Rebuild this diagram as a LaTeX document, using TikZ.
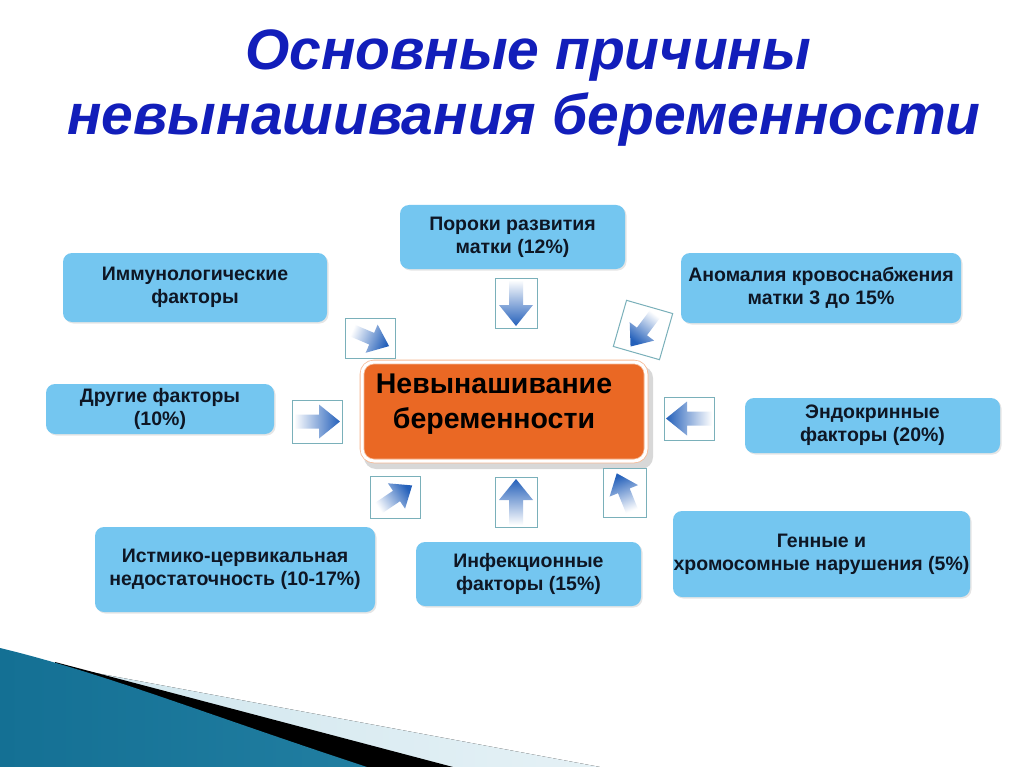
\documentclass[tikz,border=0pt]{standalone}
\usepackage{fontspec}
\setmainfont{Liberation Sans}
\usetikzlibrary{shadows}
\definecolor{headblue}{RGB}{18,30,186}
\definecolor{boxblue}{RGB}{116,198,240}
\definecolor{boxtext}{RGB}{14,22,36}
\definecolor{coreorange}{RGB}{234,104,36}
\definecolor{coreedge}{RGB}{246,186,150}
\definecolor{arrowblue}{RGB}{36,96,186}
\definecolor{framegray}{RGB}{122,176,186}
\definecolor{tealdark}{RGB}{20,112,148}
\definecolor{teallight}{RGB}{84,182,214}
\definecolor{paleblue}{RGB}{208,230,238}
\tikzset{
  cause/.style={fill=boxblue, rounded corners=9pt, align=center, text=boxtext, inner sep=0pt,
    font=\fontsize{19.5}{23}\selectfont\bfseries,
    drop shadow={shadow xshift=1.5pt, shadow yshift=-1.5pt, opacity=0.2}},
  frame/.style={draw=framegray, line width=1pt, fill=white, inner sep=0pt},
  pics/pointer/.style={code={
    \pgfmathsetmacro\shadeang{#1+90}
    \begin{scope}[rotate=#1]
    \shade[top color=white, bottom color=arrowblue, shading angle=\shadeang] (-23,-7) -- (2,-7) -- (2,-17) -- (23,0) -- (2,17) -- (2,7) -- (-23,7) -- cycle;
    \end{scope}
  }}
}

\begin{document}
\begin{tikzpicture}[x=1pt,y=-1pt]
\useasboundingbox (0,0) rectangle (1024,767);
\fill[white] (0,0) rectangle (1024,767);
\fill[left color=paleblue, right color=paleblue!55!white] (85,671) -- (600,767) -- (85,767) -- cycle;
\fill[black] (55,662) -- (453,767) -- (55,767) -- cycle;
\shade[left color=tealdark, middle color=teallight, right color=tealdark!80!teallight] (0,648) .. controls (100,672) and (200,712) .. (367,767) -- (0,767) -- cycle;

\node[anchor=base, text=headblue, font=\fontsize{57}{65}\selectfont\bfseries\itshape] (title1) at (528,70) {Основные причины};
\node[anchor=base, text=headblue, font=\fontsize{57}{65}\selectfont\bfseries\itshape] (title2) at (524,135) {невынашивания беременности};

\node[cause, minimum width=225, minimum height=64] (uterus) at (512.5,237) {Пороки развития\\матки (12\%)};
\node[cause, minimum width=264, minimum height=69] (immune) at (195,287.5) {Иммунологические\\факторы};
\node[cause, minimum width=280, minimum height=70] (blood) at (821,288) {Аномалия кровоснабжения\\матки 3 до 15\%};
\node[cause, minimum width=228, minimum height=50] (other) at (160,409) {Другие факторы\\(10\%)};
\node[cause, minimum width=255, minimum height=55] (endo) at (872.5,425.5) {Эндокринные\\факторы (20\%)};
\node[cause, minimum width=280, minimum height=85] (cervix) at (235,569.5) {Истмико-цервикальная\\недостаточность (10-17\%)};
\node[cause, minimum width=225, minimum height=64] (infect) at (528.5,574) {Инфекционные\\факторы (15\%)};
\node[cause, minimum width=297, minimum height=86] (genes) at (821.5,554) {Генные и\\хромосомные нарушения (5\%)};

\fill[black!30, opacity=0.5, rounded corners=12pt] (364,366) rectangle (653,469);
\node[fill=coreorange, draw=coreedge, double=white, double distance=3pt, line width=0.8pt, rounded corners=12pt, minimum width=284, minimum height=99] (core) at (504,411.5) {};
\node[font=\fontsize{28.5}{35}\selectfont\bfseries, align=center, text=black] (coretext) at (494,404) {Невынашивание\\беременности};

\node[frame, minimum width=42, minimum height=50] (f1) at (516,303) {};
\node[frame, minimum width=50, minimum height=40] (f2) at (370,338) {};
\node[frame, minimum width=48, minimum height=48, rotate=-16] (f3) at (643,330) {};
\node[frame, minimum width=50, minimum height=43] (f4) at (317,421.5) {};
\node[frame, minimum width=50, minimum height=43] (f5) at (689,418.5) {};
\node[frame, minimum width=50, minimum height=42] (f6) at (395,497) {};
\node[frame, minimum width=42, minimum height=50] (f7) at (516,502) {};
\node[frame, minimum width=43, minimum height=49] (f8) at (624.5,492.5) {};
\pic at (f1) {pointer=-90};
\pic[scale=0.9] at (f2) {pointer=-23};
\pic[scale=0.9] at (f3) {pointer=-127};
\pic at (f4) {pointer=0};
\pic at (f5) {pointer=180};
\pic[scale=0.9] at (f6) {pointer=34};
\pic at (f7) {pointer=90};
\pic[scale=0.9] at (f8) {pointer=112};
\end{tikzpicture}
\end{document}
